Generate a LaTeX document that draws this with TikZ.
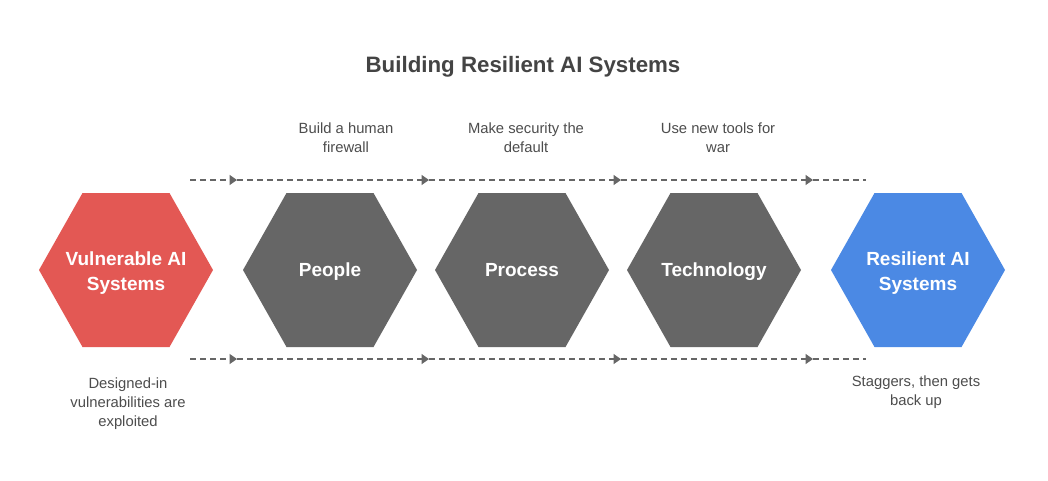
\documentclass[tikz,border=0pt]{standalone}
\usepackage{fontspec}
\setmainfont{Liberation Sans}
\usetikzlibrary{shapes.geometric,arrows.meta}
\definecolor{hred}{HTML}{E35854}
\definecolor{hgray}{HTML}{666666}
\definecolor{hblue}{HTML}{4B89E4}
\definecolor{txt}{HTML}{4D4D4D}
\definecolor{ttl}{HTML}{444444}
\tikzset{
  hexa/.style={regular polygon, regular polygon sides=6, minimum size=174pt, inner sep=0pt, outer sep=0pt, draw=none, yscale=1.022, transform shape},
  hl/.style={text=white, font=\fontsize{19}{25}\selectfont\bfseries, align=center, inner sep=0pt},
  hl1/.style={hl, text height=13.5pt, text depth=0pt},
  lbl/.style={text=txt, font=\fontsize{14.8}{19}\selectfont, align=center, inner sep=0pt},
  dl/.style={hgray, line width=1.5pt, dash pattern=on 6pt off 4pt},
  da/.style={dl, -{Triangle[length=7.5pt,width=10pt]}},
}
\begin{document}
\begin{tikzpicture}[x=1pt,y=-1pt]
\useasboundingbox[fill=white] (0,0) rectangle (1048,480);
\node[font=\fontsize{22.3}{26}\selectfont\bfseries, text=ttl] (title) at (523,67) {Building Resilient AI Systems};
\node[hexa, fill=hred] (vul) at (126,270) {};
\node[hexa, fill=hgray] (people) at (330,270) {};
\node[hexa, fill=hgray] (process) at (522,270) {};
\node[hexa, fill=hgray] (tech) at (714,270) {};
\node[hexa, fill=hblue] (res) at (918,270) {};
\node[hl] (vult) at ([yshift=-3.5pt]vul.center) {Vulnerable AI\\Systems};
\node[hl1] (peoplet) at (people.center) {People};
\node[hl1] (processt) at (process.center) {Process};
\node[hl1] (techt) at (tech.center) {Technology};
\node[hl] (rest) at ([yshift=-3.5pt]res.center) {Resilient AI\\Systems};
\node[lbl] (l1) at (346,137.5) {Build a human\\firewall};
\node[lbl] (l2) at (526,137.5) {Make security the\\default};
\node[lbl] (l3) at (718,137.5) {Use new tools for\\war};
\node[lbl] (l4) at (128,404) {Designed-in\\vulnerabilities are\\exploited};
\node[lbl] (l5) at (916,392.5) {Staggers, then gets\\back up};
\foreach \y/\n in {180/t,359/b}{
  \coordinate (\n0) at (190,\y);
  \coordinate (\n1) at (237,\y);
  \coordinate (\n2) at (429,\y);
  \coordinate (\n3) at (621,\y);
  \coordinate (\n4) at (813,\y);
  \coordinate (\n5) at (866,\y);
  \draw[da] (\n0) -- (\n1);
  \draw[da] (\n1) -- (\n2);
  \draw[da] (\n2) -- (\n3);
  \draw[da] (\n3) -- (\n4);
  \draw[dl] (\n4) -- (\n5);
}
\end{tikzpicture}
\end{document}
